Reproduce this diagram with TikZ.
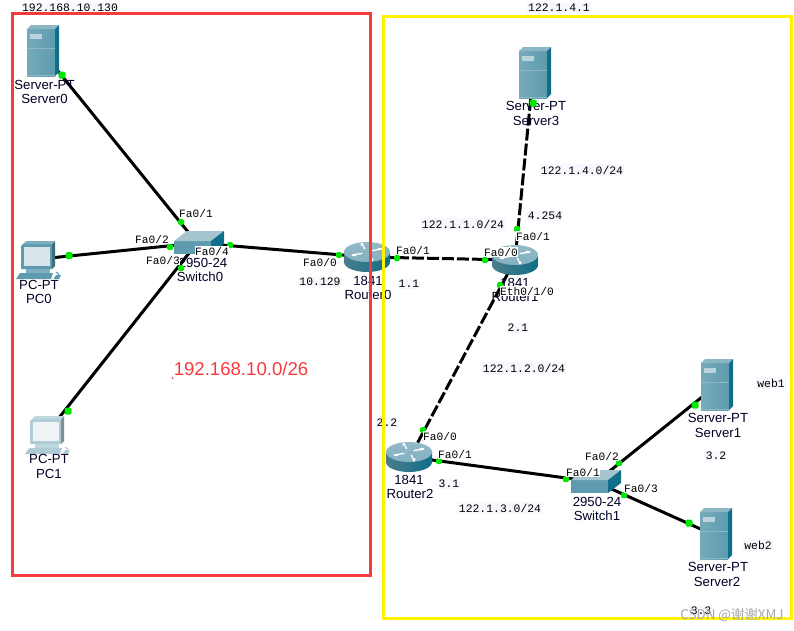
\documentclass[tikz,border=0pt]{standalone}
\usepackage{fontspec}
\setmainfont{Liberation Sans}
\setmonofont{Liberation Mono}
\newfontfamily\cjkfont{Noto Sans CJK SC}
\definecolor{tealfront}{HTML}{5E9BAF}
\definecolor{tealtop}{HTML}{8DB6C4}
\definecolor{tealside}{HTML}{0F6F88}
\definecolor{portgreen}{HTML}{00E800}
\definecolor{boxred}{HTML}{F53B3B}
\definecolor{notebg}{HTML}{F7F8FD}
\tikzset{
    devlabel/.style={font=\fontsize{13.2}{14}\selectfont,text=black!85!blue,inner sep=0pt},
    portlabel/.style={font=\ttfamily\fontsize{11.2}{12}\selectfont,fill=white,inner xsep=0.5pt,inner ysep=0.5pt},
    note/.style={font=\ttfamily\fontsize{11.4}{12}\selectfont,fill=notebg,inner xsep=1pt,inner ysep=1.5pt},
    port/.style={fill=portgreen,minimum size=7pt,inner sep=0pt,rounded corners=1.5pt},
    link/.style={line width=3pt,black},
    serial/.style={link,dash pattern=on 12pt off 3pt},
    pics/servericon/.style={code={
        \shade[left color=tealfront!85!white,right color=tealfront] (0,4) rectangle (28,51);
        \fill[tealtop] (0,4) -- (4,0) -- (32,0) -- (28,4) -- cycle;
        \fill[tealside] (28,4) -- (32,0) -- (32,47) -- (28,51) -- cycle;
        \fill[tealtop!60!white] (3,9) rectangle (15,14);
        \draw[tealtop,line width=0.6pt] (0,23) -- (28,23);
        \draw[tealtop,line width=0.8pt] (0,50) -- (28,50);
    }},
    pics/pcicon/.style 2 args={code={
        \fill[#1] (-2,25) -- (-2,2) -- (0,0) -- (29,0) -- (29,25) -- cycle;
        \fill[#1!70!black] (29,0) -- (32,-3) -- (32,22) -- (29,25) -- cycle;
        \fill[#1!80!white] (0,0) -- (3,-3) -- (32,-3) -- (29,0) -- cycle;
        \fill[#2] (1,3) rectangle (27,22);
        \fill[#1!80!white] (3,25) rectangle (27,29);
        \fill[#1] (-7,35) -- (-3,29) -- (30,29) -- (28,35) -- cycle;
        \draw[#1,line width=1pt] (31,34) .. controls (36,33) and (38,30) .. (33,28);
        \fill[#1] (31,35) -- (33,31) -- (38,31) -- (36,35) -- cycle;
    }},
    pics/routericon/.style={code={
        \shade[left color=tealfront!80!black,middle color=white!85!tealfront,right color=tealside]
            (-23,0) -- (-23,10) arc[start angle=180,end angle=360,x radius=23pt,y radius=10pt]
            -- (23,0) -- cycle;
        \shade[top color=tealtop!95!white,bottom color=tealtop!80!tealfront]
            (0,0) ellipse[x radius=23pt,y radius=10pt];
        \foreach \angle in {15,105,195,285}
            \draw[white,line width=1.3pt,yscale=0.6,rotate=\angle] (5,-1) -- (16,-1) (12,-3) -- (16,-1);
    }},
    pics/switchicon/.style={code={
        \fill[tealfront] (0,10) rectangle (37,23);
        \fill[tealtop!80!white] (0,10) -- (13,0) -- (50,0) -- (37,10) -- cycle;
        \fill[tealside] (37,10) -- (50,0) -- (50,13) -- (37,23) -- cycle;
    }}
}

\begin{document}
\begin{tikzpicture}[x=1pt,y=-1pt]
    \useasboundingbox (0,0) rectangle (794,630);

    % centres of the devices, the links run between them
    \coordinate (server0) at (41,50);
    \coordinate (pc0) at (40,259);
    \coordinate (pc1) at (47,433);
    \coordinate (switch0) at (197,243);
    \coordinate (router0) at (367,257);
    \coordinate (router1) at (515,260);
    \coordinate (router2) at (410,457);
    \coordinate (switch1) at (596,482);
    \coordinate (server1) at (717,385);
    \coordinate (server2) at (714,535);
    \coordinate (server3) at (533,75);

    \draw[link] (server0) -- (switch0);
    \draw[link] (pc0) -- (switch0);
    \draw[link] (pc1) -- (switch0);
    \draw[link] (switch0) -- (router0);
    \draw[link] (router2) -- (switch1);
    \draw[link] (switch1) -- (server1);
    \draw[link] (switch1) -- (server2);
    \draw[serial] (router0) -- (router1);
    \draw[serial] (router1) -- (server3);
    \draw[serial] (router1) -- (router2);

    \pic at (27,25) {servericon};
    \pic at (519,47) {servericon};
    \pic at (701,359) {servericon};
    \pic at (700,508) {servericon};
    \pic at (23,244) {pcicon={tealfront}{tealtop!35!white}};
    \pic at (32,419) {pcicon={tealtop!70!white}{tealtop!15!white}};
    \pic at (174,231) {switchicon};
    \pic at (571,470) {switchicon};
    \pic at (367,252) {routericon};
    \pic at (515,255) {routericon};
    \pic at (409,452) {routericon};

    \node[devlabel] (server0a) at (44.5,85) {Server-PT};
    \node[devlabel] (server0b) at (44.5,99) {Server0};
    \node[devlabel] (pc0a) at (39,285) {PC-PT};
    \node[devlabel] (pc0b) at (39,299) {PC0};
    \node[devlabel] (pc1a) at (49,459) {PC-PT};
    \node[devlabel] (pc1b) at (49,474) {PC1};
    \node[devlabel] (switch0a) at (203,263) {2950-24};
    \node[devlabel] (switch0b) at (200,277) {Switch0};
    \node[devlabel] (router0a) at (368,281) {1841};
    \node[devlabel] (router0b) at (368,295) {Router0};
    \node[devlabel] (router1a) at (515,283) {1841};
    \node[devlabel] (router1b) at (515,297) {Router1};
    \node[devlabel] (router2a) at (409,480) {1841};
    \node[devlabel] (router2b) at (410,494) {Router2};
    \node[devlabel] (switch1a) at (597,502) {2950-24};
    \node[devlabel] (switch1b) at (597,516) {Switch1};
    \node[devlabel] (server1a) at (718,418) {Server-PT};
    \node[devlabel] (server1b) at (718,433) {Server1};
    \node[devlabel] (server2a) at (718,567) {Server-PT};
    \node[devlabel] (server2b) at (717,582) {Server2};
    \node[devlabel] (server3a) at (536,106) {Server-PT};
    \node[devlabel] (server3b) at (536,121) {Server3};

    \node[port] (p1) at (62,75) {};
    \node[port] (p2) at (69,255.5) {};
    \node[port] (p3) at (68,411) {};
    \node[port,minimum size=6pt] (p4) at (181,222) {};
    \node[port,minimum size=6pt] (p5) at (170,247) {};
    \node[port,minimum size=6pt] (p6) at (181,268) {};
    \node[port,minimum size=6pt] (p7) at (230,245) {};
    \node[port,minimum size=6pt] (p8) at (339,255) {};
    \node[port,minimum size=6pt] (p9) at (397,258) {};
    \node[port,minimum size=6pt] (p10) at (485,260) {};
    \node[port,minimum size=6pt] (p11) at (517,229) {};
    \node[port] (p12) at (533,103) {};
    \node[port,minimum size=6pt] (p13) at (500,285) {};
    \node[port,minimum size=6pt] (p14) at (423,430) {};
    \node[port,minimum size=6pt] (p15) at (439,461) {};
    \node[port,minimum size=6pt] (p16) at (566,479) {};
    \node[port,minimum size=6pt] (p17) at (619,463) {};
    \node[port,minimum size=6pt] (p18) at (624,495) {};
    \node[port] (p19) at (695,405) {};
    \node[port] (p20) at (689,523) {};

    \node[portlabel] (l1) at (196,213) {Fa0/1};
    \node[portlabel] (l2) at (152,239) {Fa0/2};
    \node[portlabel] (l3) at (163,260) {Fa0/3};
    \node[portlabel] (l4) at (212,251) {Fa0/4};
    \node[portlabel] (l5) at (320,262) {Fa0/0};
    \node[portlabel] (l6) at (413,250) {Fa0/1};
    \node[portlabel] (l7) at (501,252) {Fa0/0};
    \node[portlabel] (l8) at (533,236) {Fa0/1};
    \node[portlabel] (l9) at (527,291) {Eth0/1/0};
    \node[portlabel] (l10) at (440,436) {Fa0/0};
    \node[portlabel] (l11) at (455,454) {Fa0/1};
    \node[portlabel] (l12) at (583,472) {Fa0/1};
    \node[portlabel] (l13) at (602,456) {Fa0/2};
    \node[portlabel] (l14) at (641,488) {Fa0/3};

    \node[note] (n1) at (70,8) {192.168.10.130};
    \node[note] (n2) at (559,8) {122.1.4.1};
    \node[note] (n3) at (582,170) {122.1.4.0/24};
    \node[note] (n4) at (545,216) {4.254};
    \node[note] (n5) at (463,224) {122.1.1.0/24};
    \node[note] (n6) at (320,282) {10.129};
    \node[note] (n7) at (409,284) {1.1};
    \node[note] (n8) at (518,328) {2.1};
    \node[note] (n9) at (524,368) {122.1.2.0/24};
    \node[note] (n10) at (387,423) {2.2};
    \node[note] (n11) at (449,484) {3.1};
    \node[note] (n12) at (500,508) {122.1.3.0/24};
    \node[note] (n13) at (716,456) {3.2};
    \node[note] (n14) at (771,383) {web1};
    \node[note] (n15) at (758,545) {web2};
    \node[note] (n16) at (701,611) {3.3};

    \draw[boxred,line width=3pt] (12,13) rectangle (370,575);
    \draw[yellow,line width=3pt] (383,16) rectangle (791,618);

    \node[text=boxred,font=\fontsize{18.6}{20}\selectfont,inner sep=0pt] (net0) at (241,369) {192.168.10.0/26};
    \fill[boxred] (172.5,378) circle (1pt);
    \node[text=black!35,font=\cjkfont\fontsize{13.4}{14}\selectfont,inner sep=0pt] (mark) at (732,615) {CSDN @谢谢XMJ};
\end{tikzpicture}
\end{document}
